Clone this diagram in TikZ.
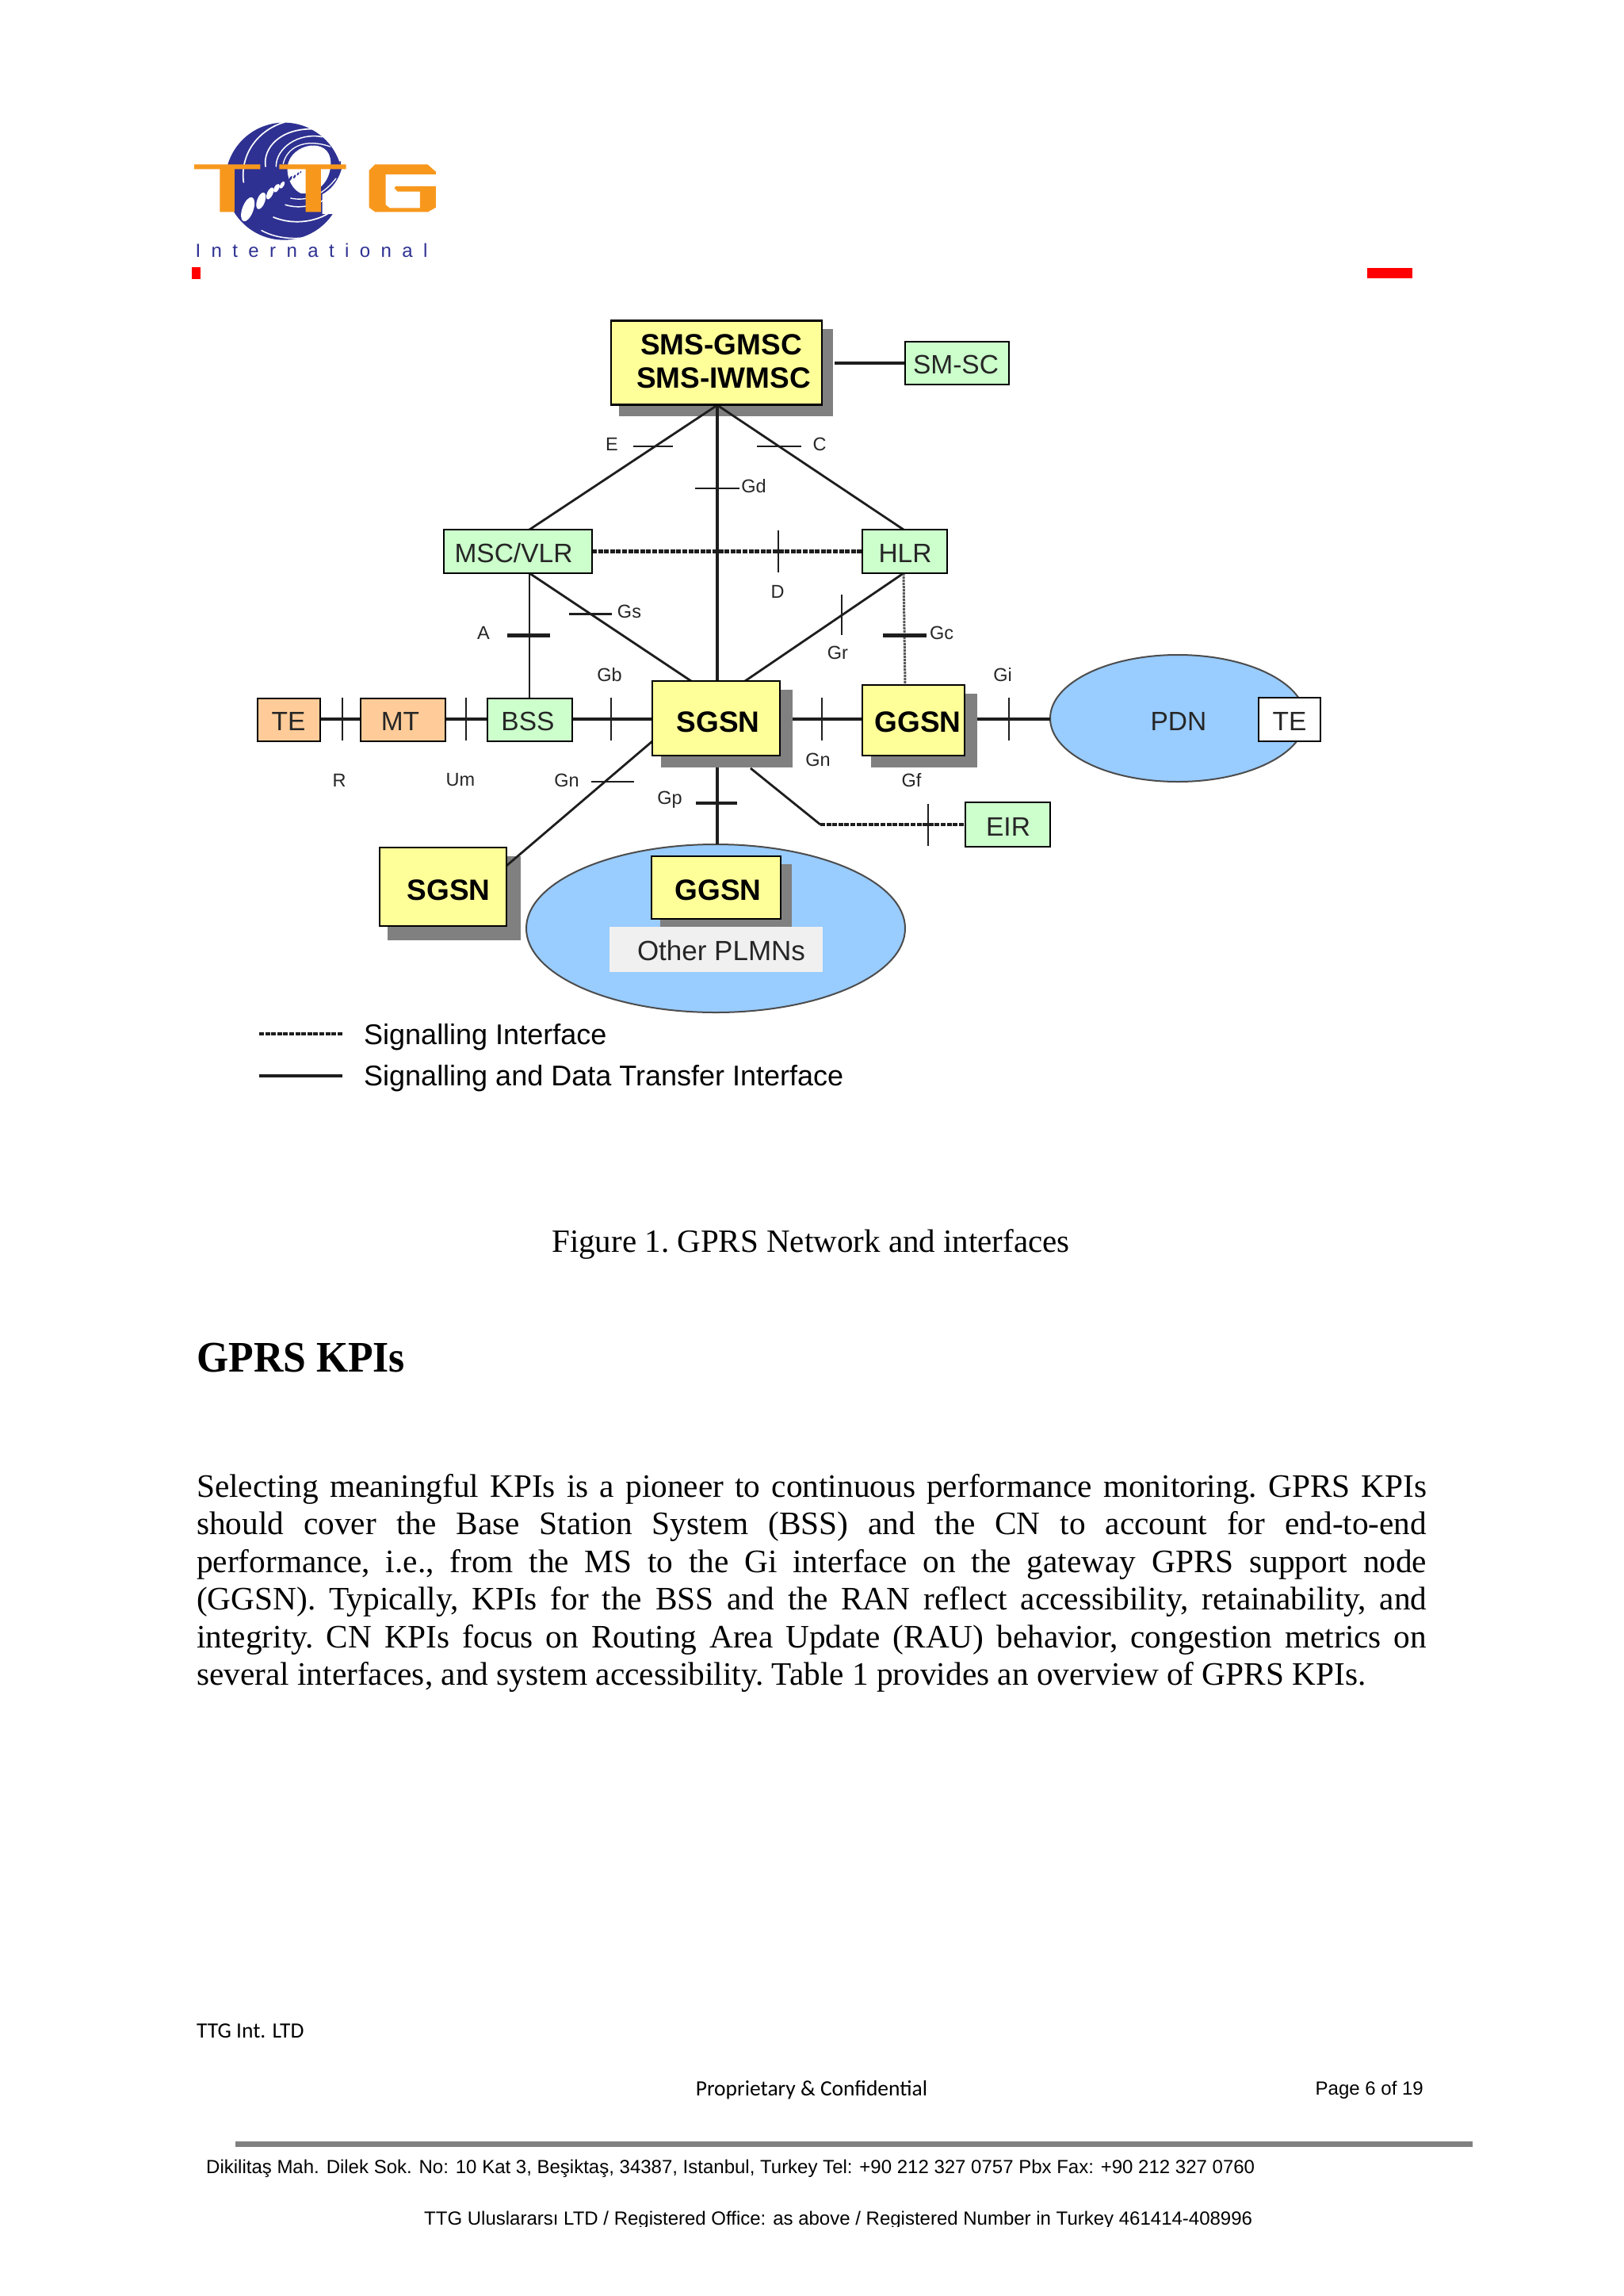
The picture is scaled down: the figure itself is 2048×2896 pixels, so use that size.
\documentclass[tikz,border=0pt]{standalone}
\usepackage{fontspec}
\usetikzlibrary{shapes.geometric}
\setmainfont{Liberation Serif}
\newfontfamily\lab{Liberation Sans}
\newfontfamily\carl{Carlito}
\definecolor{ybox}{HTML}{FFFF99}
\definecolor{gbox}{HTML}{CCFFCC}
\definecolor{obox}{HTML}{FFCC99}
\definecolor{bcloud}{HTML}{99CCFF}
\definecolor{shad}{HTML}{808080}
\definecolor{lnk}{HTML}{1E1E1E}
\definecolor{logob}{HTML}{2E3192}
\definecolor{logoo}{HTML}{F7981D}
\definecolor{logor}{HTML}{FF0000}
\newcommand{\sz}[1]{\fontsize{#1}{#1}\selectfont}
\newcommand{\jl}[1]{\makebox[1552pt][s]{#1}}
\tikzset{
 nbox/.style={draw=black,line width=2.6pt,inner sep=0pt},
 yb/.style={nbox,fill=ybox},
 gb/.style={nbox,fill=gbox},
 ob/.style={nbox,fill=obox},
 ylab/.style={inner sep=0pt,font=\lab\bfseries\sz{37}},
 glab/.style={inner sep=0pt,font=\lab\sz{33.5},text=black!85},
 cloud/.style={ellipse,draw=black!70,line width=2pt,fill=bcloud,inner sep=0pt},
 shadowbox/.style={fill=shad,draw=none},
 solidlink/.style={draw=lnk,line width=3.6pt},
 thinlink/.style={draw=lnk,line width=2.8pt},
 dashlink/.style={draw=lnk,line width=4.2pt,dash pattern=on 6pt off 1.6pt},
 dotlink/.style={draw=black!65,line width=3pt,dash pattern=on 3pt off 1pt},
 tk/.style={draw=lnk,line width=2.4pt},
 tkb/.style={draw=lnk,line width=4.5pt},
 lb/.style={font=\lab\sz{23.5},text=black!85,inner sep=0pt},
 leg/.style={font=\lab\sz{36},anchor=west,inner sep=0pt},
 foot/.style={inner sep=0pt,text=black},
 bodyline/.style={inner sep=0pt,anchor=west,font=\sz{41.3}\frenchspacing},
 spiral/.style={draw=white,line cap=round}
}
\begin{document}
\begin{tikzpicture}[x=1pt,y=-1pt]
\useasboundingbox (0,0) rectangle (2048,2896);
\fill[white] (0,0) rectangle (2048,2896);

% ---------- logo
\begin{scope}[shift={(220,130)},x=.3333pt,y=-.3333pt]
 \fill[logob] (415,296) circle [radius=74pt];
 \fill[white] (428,240) .. controls (440,150) and (590,125) .. (592,225) .. controls (592,300) and (540,345) .. (480,342) .. controls (450,330) and (425,290) .. (428,240) -- cycle;
 \fill[white] (560,345) .. controls (610,320) and (640,260) .. (640,200) -- (680,200) -- (680,420) -- (560,420) -- cycle;
 \draw[logob,line width=1.2pt] (470,140) .. controls (540,110) and (610,150) .. (607,225);
 \draw[logob,line width=1.6pt] (570,320) .. controls (610,290) and (628,260) .. (628,220);
 \draw[spiral,line width=1.7pt] (262,300) .. controls (248,190) and (320,100) .. (418,72);
 \draw[spiral,line width=1.7pt] (345,240) .. controls (335,170) and (400,95) .. (528,98);
 \draw[spiral,line width=1.5pt] (385,240) .. controls (385,170) and (470,110) .. (560,128);
 \draw[spiral,line width=1.3pt] (412,230) .. controls (425,170) and (490,130) .. (590,165);
 \draw[spiral,line width=1.7pt] (375,432) .. controls (470,470) and (570,440) .. (615,392);
 \draw[spiral,line width=1.5pt] (330,482) .. controls (380,510) and (440,515) .. (490,510);
 \draw[spiral,line width=1.5pt] (420,385) .. controls (500,410) and (590,370) .. (635,305);
 \draw[spiral,line width=1.3pt] (440,360) .. controls (510,375) and (570,340) .. (612,285);
 \fill[white] (278,402) ellipse [x radius=7pt,y radius=16pt,rotate=-20];
 \fill[white] (328,370) ellipse [x radius=5pt,y radius=11pt,rotate=-20];
 \fill[white] (362,342) ellipse [x radius=3.6pt,y radius=8pt,rotate=-25];
 \fill[white] (387,322) ellipse [x radius=3pt,y radius=6pt,rotate=-30];
 \fill[white] (408,310) ellipse [x radius=2.4pt,y radius=5pt,rotate=-30];
 \fill[logob] (440,285) ellipse [x radius=1.4pt,y radius=3.4pt,rotate=-30];
 \fill[logob] (455,278) ellipse [x radius=1.2pt,y radius=2.6pt,rotate=-30];
 \fill[logob] (468,268) ellipse [x radius=1pt,y radius=2.2pt,rotate=-30];
 \fill[logob] (478,261) ellipse [x radius=.8pt,y radius=1.8pt,rotate=-30];
 \fill[logoo] (75,232) -- (325,232) -- (325,250) -- (228,250) -- (228,412) -- (172,412) -- (172,250) -- (75,250) -- cycle;
 \fill[logoo] (397,232) -- (650,232) -- (650,250) -- (555,250) -- (555,412) -- (497,412) -- (497,250) -- (397,250) -- cycle;
 \fill[logoo] (737,255) -- (760,232) -- (958,232) -- (990,260) -- (990,270) -- (800,270) -- (800,385) -- (815,397) -- (930,397) -- (930,335) -- (845,335) -- (833,322) -- (838,315) -- (990,315) -- (990,395) -- (960,412) -- (760,412) -- (737,395) -- cycle;
\end{scope}
\node[inner sep=0pt,anchor=center,text=logob] (intl) at (393,316) {\makebox[293pt][s]{\lab\sz{24}I\hfill n\hfill t\hfill e\hfill r\hfill n\hfill a\hfill t\hfill i\hfill o\hfill n\hfill a\hfill l}};
\fill[logor] (242,337) rectangle (253,352);
\fill[logor] (1725,338) rectangle (1782,351);

% ---------- clouds
\node[cloud,minimum width=322,minimum height=160] (pdn) at (1486,906) {};
\node[cloud,minimum width=478,minimum height=212] (plmn) at (903,1171) {};

% ---------- shadows
\fill[shadowbox] (781,415) rectangle (1051,525);
\fill[shadowbox] (834,870) rectangle (1000,968);
\fill[shadowbox] (1099,875) rectangle (1233,968);
\fill[shadowbox] (489,1080) rectangle (657,1186);
\fill[shadowbox] (833,1090) rectangle (999,1174);

% ---------- connector anchor points
\coordinate (smsapex) at (905,511);
\coordinate (smsright) at (1053,458);
\coordinate (mscN) at (668,668);
\coordinate (mscS) at (668,723);
\coordinate (hlrN) at (1140,668);
\coordinate (hlrS) at (1140,723);
\coordinate (sgsnNW) at (872,859);
\coordinate (sgsnNE) at (940,859);
\coordinate (sgsnN) at (905,859);
\coordinate (ggsnN) at (1142,864);
\coordinate (bssN) at (668,881);
\coordinate (sgsnSW) at (823,935);
\coordinate (sgsn2NE) at (639,1092);
\coordinate (sgsnE) at (1000,907);
\coordinate (ggsnE) at (1233,907);
\coordinate (sgsnS) at (905,968);
\coordinate (plmnN) at (905,1065);
\coordinate (sgsnSE) at (947,969);
\coordinate (eirbend) at (1035,1040);
\coordinate (eirW) at (1218,1040);
\coordinate (legA) at (327,1304);
\coordinate (legB) at (432,1304);
\coordinate (legC) at (327,1357);
\coordinate (legD) at (432,1357);

% ---------- connectors
\draw[thinlink] (smsapex) -- (mscN);
\draw[thinlink] (smsapex) -- (hlrN);
\draw[solidlink] (smsapex) -- (sgsnN);
\draw[solidlink] (smsright) -- (1142,458);
\draw[thinlink] (mscS) -- (sgsnNW);
\draw[thinlink] (hlrS) -- (sgsnNE);
\draw[thinlink] (mscS) -- (bssN);
\draw[dotlink] (hlrS) -- (ggsnN);
\draw[dashlink] (747,695.5) -- (1088,695.5);
\draw[solidlink] (404,907) -- (455,907);
\draw[solidlink] (562,907) -- (615,907);
\draw[solidlink] (722,907) -- (823,907);
\draw[solidlink] (sgsnE) -- (1088,907);
\draw[solidlink] (ggsnE) -- (1325,907);
\draw[solidlink] (sgsnS) -- (plmnN);
\draw[thinlink] (sgsnSW) -- (sgsn2NE);
\draw[thinlink] (sgsnSE) -- (eirbend);
\draw[dashlink] (eirbend) -- (eirW);

% ---------- ticks
\draw[tk] (799,563) -- (849,563);
\draw[tk] (955,563) -- (1011,563);
\draw[tk] (877,616) -- (933,616);
\draw[tk] (982,669) -- (982,722);
\draw[tkb] (640,801.5) -- (694,801.5);
\draw[tk] (718,774.5) -- (772,774.5);
\draw[tk] (1062,750) -- (1062,801);
\draw[tkb] (1114,801.5) -- (1169,801.5);
\draw[tk] (432,880) -- (432,934);
\draw[tk] (588,880) -- (588,934);
\draw[tk] (771,880) -- (771,934);
\draw[tk] (1037,880) -- (1037,934);
\draw[tk] (1273,880) -- (1273,934);
\draw[tk] (746,986) -- (800,986);
\draw[tkb] (878,1013) -- (930,1013);
\draw[tk] (1171,1014) -- (1171,1067);

% ---------- boxes
\node[yb,minimum width=266,minimum height=106] (sms) at (904,457.5) {};
\node[gb,minimum width=131,minimum height=54] (smsc) at (1207.5,458) {};
\node[gb,minimum width=187,minimum height=55] (msc) at (653.5,695.5) {};
\node[gb,minimum width=107,minimum height=55] (hlr) at (1141.5,695.5) {};
\node[ob,minimum width=79,minimum height=54] (te1) at (364.5,908) {};
\node[ob,minimum width=107,minimum height=54] (mt) at (508.5,908) {};
\node[gb,minimum width=107,minimum height=54] (bss) at (668.5,908) {};
\node[yb,minimum width=161,minimum height=94] (sgsn1) at (903.5,906) {};
\node[yb,minimum width=129,minimum height=89] (ggsn1) at (1152.5,908.5) {};
\node[nbox,fill=white,minimum width=78,minimum height=55] (te2) at (1627,907.5) {};
\node[gb,minimum width=107,minimum height=56] (eir) at (1271.5,1040) {};
\node[yb,minimum width=160,minimum height=99] (sgsn2) at (559,1118.5) {};
\node[yb,minimum width=163,minimum height=79] (ggsn2) at (903.5,1119.5) {};
\fill[black!6] (769,1169) rectangle (1038,1226);

% ---------- box texts
\node[ylab] (tsms1) at (910,435) {SMS-GMSC};
\node[ylab] (tsms2) at (913,477) {SMS-IWMSC};
\node[glab] (tsmsc) at (1206,460) {SM-SC};
\node[glab] (tmsc) at (648,698) {MSC/VLR};
\node[glab] (thlr) at (1142,698) {HLR};
\node[glab] (tte1) at (364,910) {TE};
\node[glab] (tmt) at (505,910) {MT};
\node[glab] (tbss) at (666,910) {BSS};
\node[ylab] (tsgsn1) at (906,911) {SGSN};
\node[ylab] (tggsn1) at (1158,911) {GGSN};
\node[glab] (tte2) at (1627,910) {TE};
\node[glab] (tpdn) at (1487,910) {PDN};
\node[glab] (teir) at (1272,1043) {EIR};
\node[ylab] (tsgsn2) at (566,1123) {SGSN};
\node[ylab] (tggsn2) at (906,1123) {GGSN};
\node[glab,font=\lab\sz{35}] (tplmn) at (910,1199) {Other PLMNs};

% ---------- interface labels
\node[lb] (lE) at (772,560) {E};
\node[lb] (lC) at (1034,560) {C};
\node[lb] (lGd) at (951,613) {Gd};
\node[lb] (lD) at (981,746) {D};
\node[lb] (lA) at (610,798) {A};
\node[lb] (lGs) at (794,771) {Gs};
\node[lb] (lGr) at (1057,823) {Gr};
\node[lb] (lGc) at (1188,798) {Gc};
\node[lb] (lGb) at (769,851) {Gb};
\node[lb] (lGi) at (1265,851) {Gi};
\node[lb] (lGn1) at (1032,958) {Gn};
\node[lb] (lGf) at (1150,984) {Gf};
\node[lb] (lR) at (428,984) {R};
\node[lb] (lUm) at (581,984) {Um};
\node[lb] (lGn2) at (715,984) {Gn};
\node[lb] (lGp) at (845,1009) {Gp};

% ---------- legend
\draw[dashlink,line width=3.4pt] (legA) -- (legB);
\draw[solidlink] (legC) -- (legD);
\node[leg] (leg1) at (459,1308) {Signalling Interface};
\node[leg] (leg2) at (459,1360) {Signalling and Data Transfer Interface};

% ---------- page text
\node[inner sep=0pt,font=\sz{41}\frenchspacing] (cap) at (1023,1569) {Figure 1. GPRS Network and interfaces};
\node[inner sep=0pt,anchor=west,font=\bfseries\sz{55}] (head) at (248,1713) {\scalebox{.94}[1]{GPRS KPIs}};
\node[bodyline] (b1) at (248,1878) {\jl{Selecting meaningful KPIs is a pioneer to continuous performance monitoring. GPRS KPIs}};
\node[bodyline] (b2) at (248,1925) {\jl{should cover the Base Station System (BSS) and the CN to account for end-to-end}};
\node[bodyline] (b3) at (248,1973) {\jl{performance, i.e., from the MS to the Gi interface on the gateway GPRS support node}};
\node[bodyline] (b4) at (248,2020) {\jl{(GGSN). Typically, KPIs for the BSS and the RAN reflect accessibility, retainability, and}};
\node[bodyline] (b5) at (248,2068) {\jl{integrity. CN KPIs focus on Routing Area Update (RAU) behavior, congestion metrics on}};
\node[bodyline] (b6) at (248,2115) {several interfaces, and system accessibility. Table 1 provides an overview of GPRS KPIs.};

\node[foot,anchor=west,font=\carl\sz{27.5}] (f1) at (248,2562) {TTG Int. LTD};
\node[foot,font=\carl\sz{27.5}] (f2) at (1024,2636) {Proprietary \& Confidential};
\node[foot,anchor=east,font=\lab\sz{24}] (f3) at (1796,2636) {Page 6 of 19};
\fill[black!50] (297,2701) rectangle (1858,2708);
\node[foot,anchor=west,font=\lab\sz{24}] (f4) at (260,2735) {Dikilitaş Mah. Dilek Sok. No: 10 Kat 3, Beşiktaş, 34387, Istanbul, Turkey Tel: +90 212 327 0757 Pbx Fax: +90 212 327 0760};
\begin{scope}
 \clip (0,2770) rectangle (2048,2808);
 \node[foot,anchor=base west,font=\lab\sz{24}] (f5) at (535,2806) {TTG Uluslararsı LTD / Registered Office: as above / Registered Number in Turkey 461414-408996};
\end{scope}
\end{tikzpicture}
\end{document}
